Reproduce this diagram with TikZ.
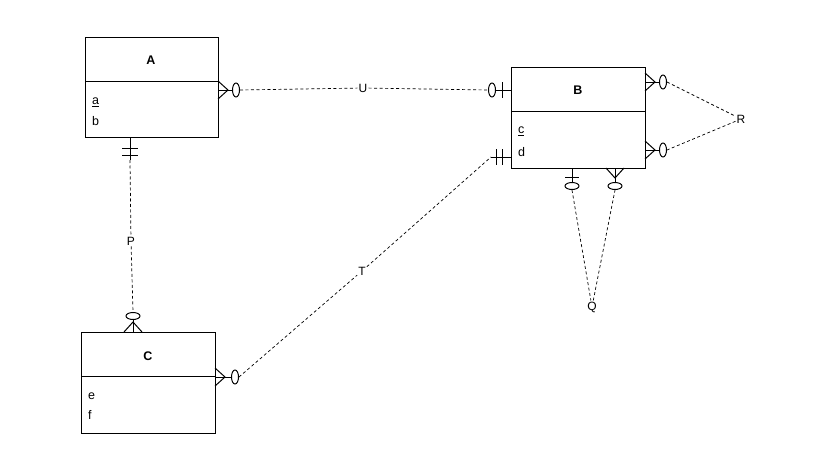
\documentclass[tikz,border=0pt]{standalone}
\usepackage{fontspec}
\setmainfont{Liberation Sans}
\usetikzlibrary{calc}
\begin{document}
\begin{tikzpicture}[x=1pt,y=-1pt,
  box/.style={draw,line width=1pt,minimum width=#1,inner sep=0pt,anchor=north west},
  rel/.style={draw,dash pattern=on 3pt off 2.5pt,line width=0.7pt},
  sym/.style={line width=1pt},
  lbl/.style={fill=white,inner sep=1pt,font=\fontsize{12}{14}\selectfont},
  att/.style={font=\fontsize{12.5}{14}\selectfont,anchor=west,inner sep=0pt},
  ttl/.style={font=\bfseries\fontsize{12.5}{14}\selectfont}]
\useasboundingbox (0,0) rectangle (823,471);
% entities
\node[box=133pt,minimum height=100pt] (A) at (85,37) {};
\node[box=134pt,minimum height=101pt] (B) at (511,67) {};
\node[box=134pt,minimum height=101pt] (C) at (81,332) {};
\draw[sym] (85,81) -- (218,81);
\draw[sym] (511,111) -- (645,111);
\draw[sym] (81,376) -- (215,376);
\node[ttl] (At) at (151,60) {A};
\node[ttl] (Bt) at (578,90) {B};
\node[ttl] (Ct) at (148,356) {C};
\node[att] (Aa) at (92,102) {\underline{a}};
\node[att] (Ab) at (92,121) {b};
\node[att] (Bc) at (518,131) {\underline{c}};
\node[att] (Bd) at (518,152) {d};
\node[att] (Ce) at (88,396) {e};
\node[att] (Cf) at (88,415) {f};
% labels
\node[lbl] (U) at (363,88) {U};
\node[lbl] (R) at (741,119) {R};
\node[lbl] (P) at (131,241) {P};
\node[lbl] (T) at (362,271) {T};
\node[lbl] (Q) at (592,307) {Q};
% coordinates
\coordinate (a1) at (240,90);
\coordinate (b1) at (488,90);
\coordinate (b2) at (667,82);
\coordinate (b3) at (667,150);
\coordinate (b4) at (572,190);
\coordinate (b5) at (615,190);
\coordinate (b6) at (491,157);
\coordinate (a2) at (130,160);
\coordinate (c1) at (133,312);
\coordinate (c2) at (239,377);
% connectors
\draw[rel] (a1) -- (U) -- (b1);
\draw[rel] (b2) -- (R) -- (b3);
\draw[rel] (b4) -- (Q) -- (b5);
\draw[rel] (a2) -- (P) -- (c1);
\draw[rel] (c2) -- (T) -- (b6);
% A right: many, optional
\draw[sym] (218,90) -- (232,90);
\draw[sym] (218,81) -- (228,90) -- (218,99);
\draw[sym] (236,90) ellipse (3.5 and 7);
% B left: one, optional
\draw[sym] (496,90) -- (511,90);
\draw[sym] (502,82) -- (502,98);
\draw[sym] (492,90) ellipse (3.5 and 7);
% B right top
\draw[sym] (645,82) -- (659,82);
\draw[sym] (645,73) -- (655,82) -- (645,91);
\draw[sym] (663,82) ellipse (3.5 and 7);
% B right bottom
\draw[sym] (645,150) -- (659,150);
\draw[sym] (645,141) -- (655,150) -- (645,159);
\draw[sym] (663,150) ellipse (3.5 and 7);
% B bottom left: one optional
\draw[sym] (572,168) -- (572,182);
\draw[sym] (565,177) -- (579,177);
\draw[sym] (572,186) ellipse (7 and 3.5);
% B bottom right: many optional
\draw[sym] (615,168) -- (615,182);
\draw[sym] (606,168) -- (615,178) -- (624,168);
\draw[sym] (615,186) ellipse (7 and 3.5);
% B left d: one mandatory
\draw[sym] (491,157) -- (511,157);
\draw[sym] (496,149) -- (496,165);
\draw[sym] (502,149) -- (502,165);
% A bottom: one mandatory
\draw[sym] (130,137) -- (130,160);
\draw[sym] (122,148) -- (138,148);
\draw[sym] (122,155) -- (138,155);
% C top: many optional
\draw[sym] (133,332) -- (133,320);
\draw[sym] (124,332) -- (133,322) -- (142,332);
\draw[sym] (133,316) ellipse (7 and 3.5);
% C right
\draw[sym] (215,377) -- (231,377);
\draw[sym] (215,368) -- (225,377) -- (215,386);
\draw[sym] (235,377) ellipse (3.5 and 7);
\end{tikzpicture}
\end{document}
